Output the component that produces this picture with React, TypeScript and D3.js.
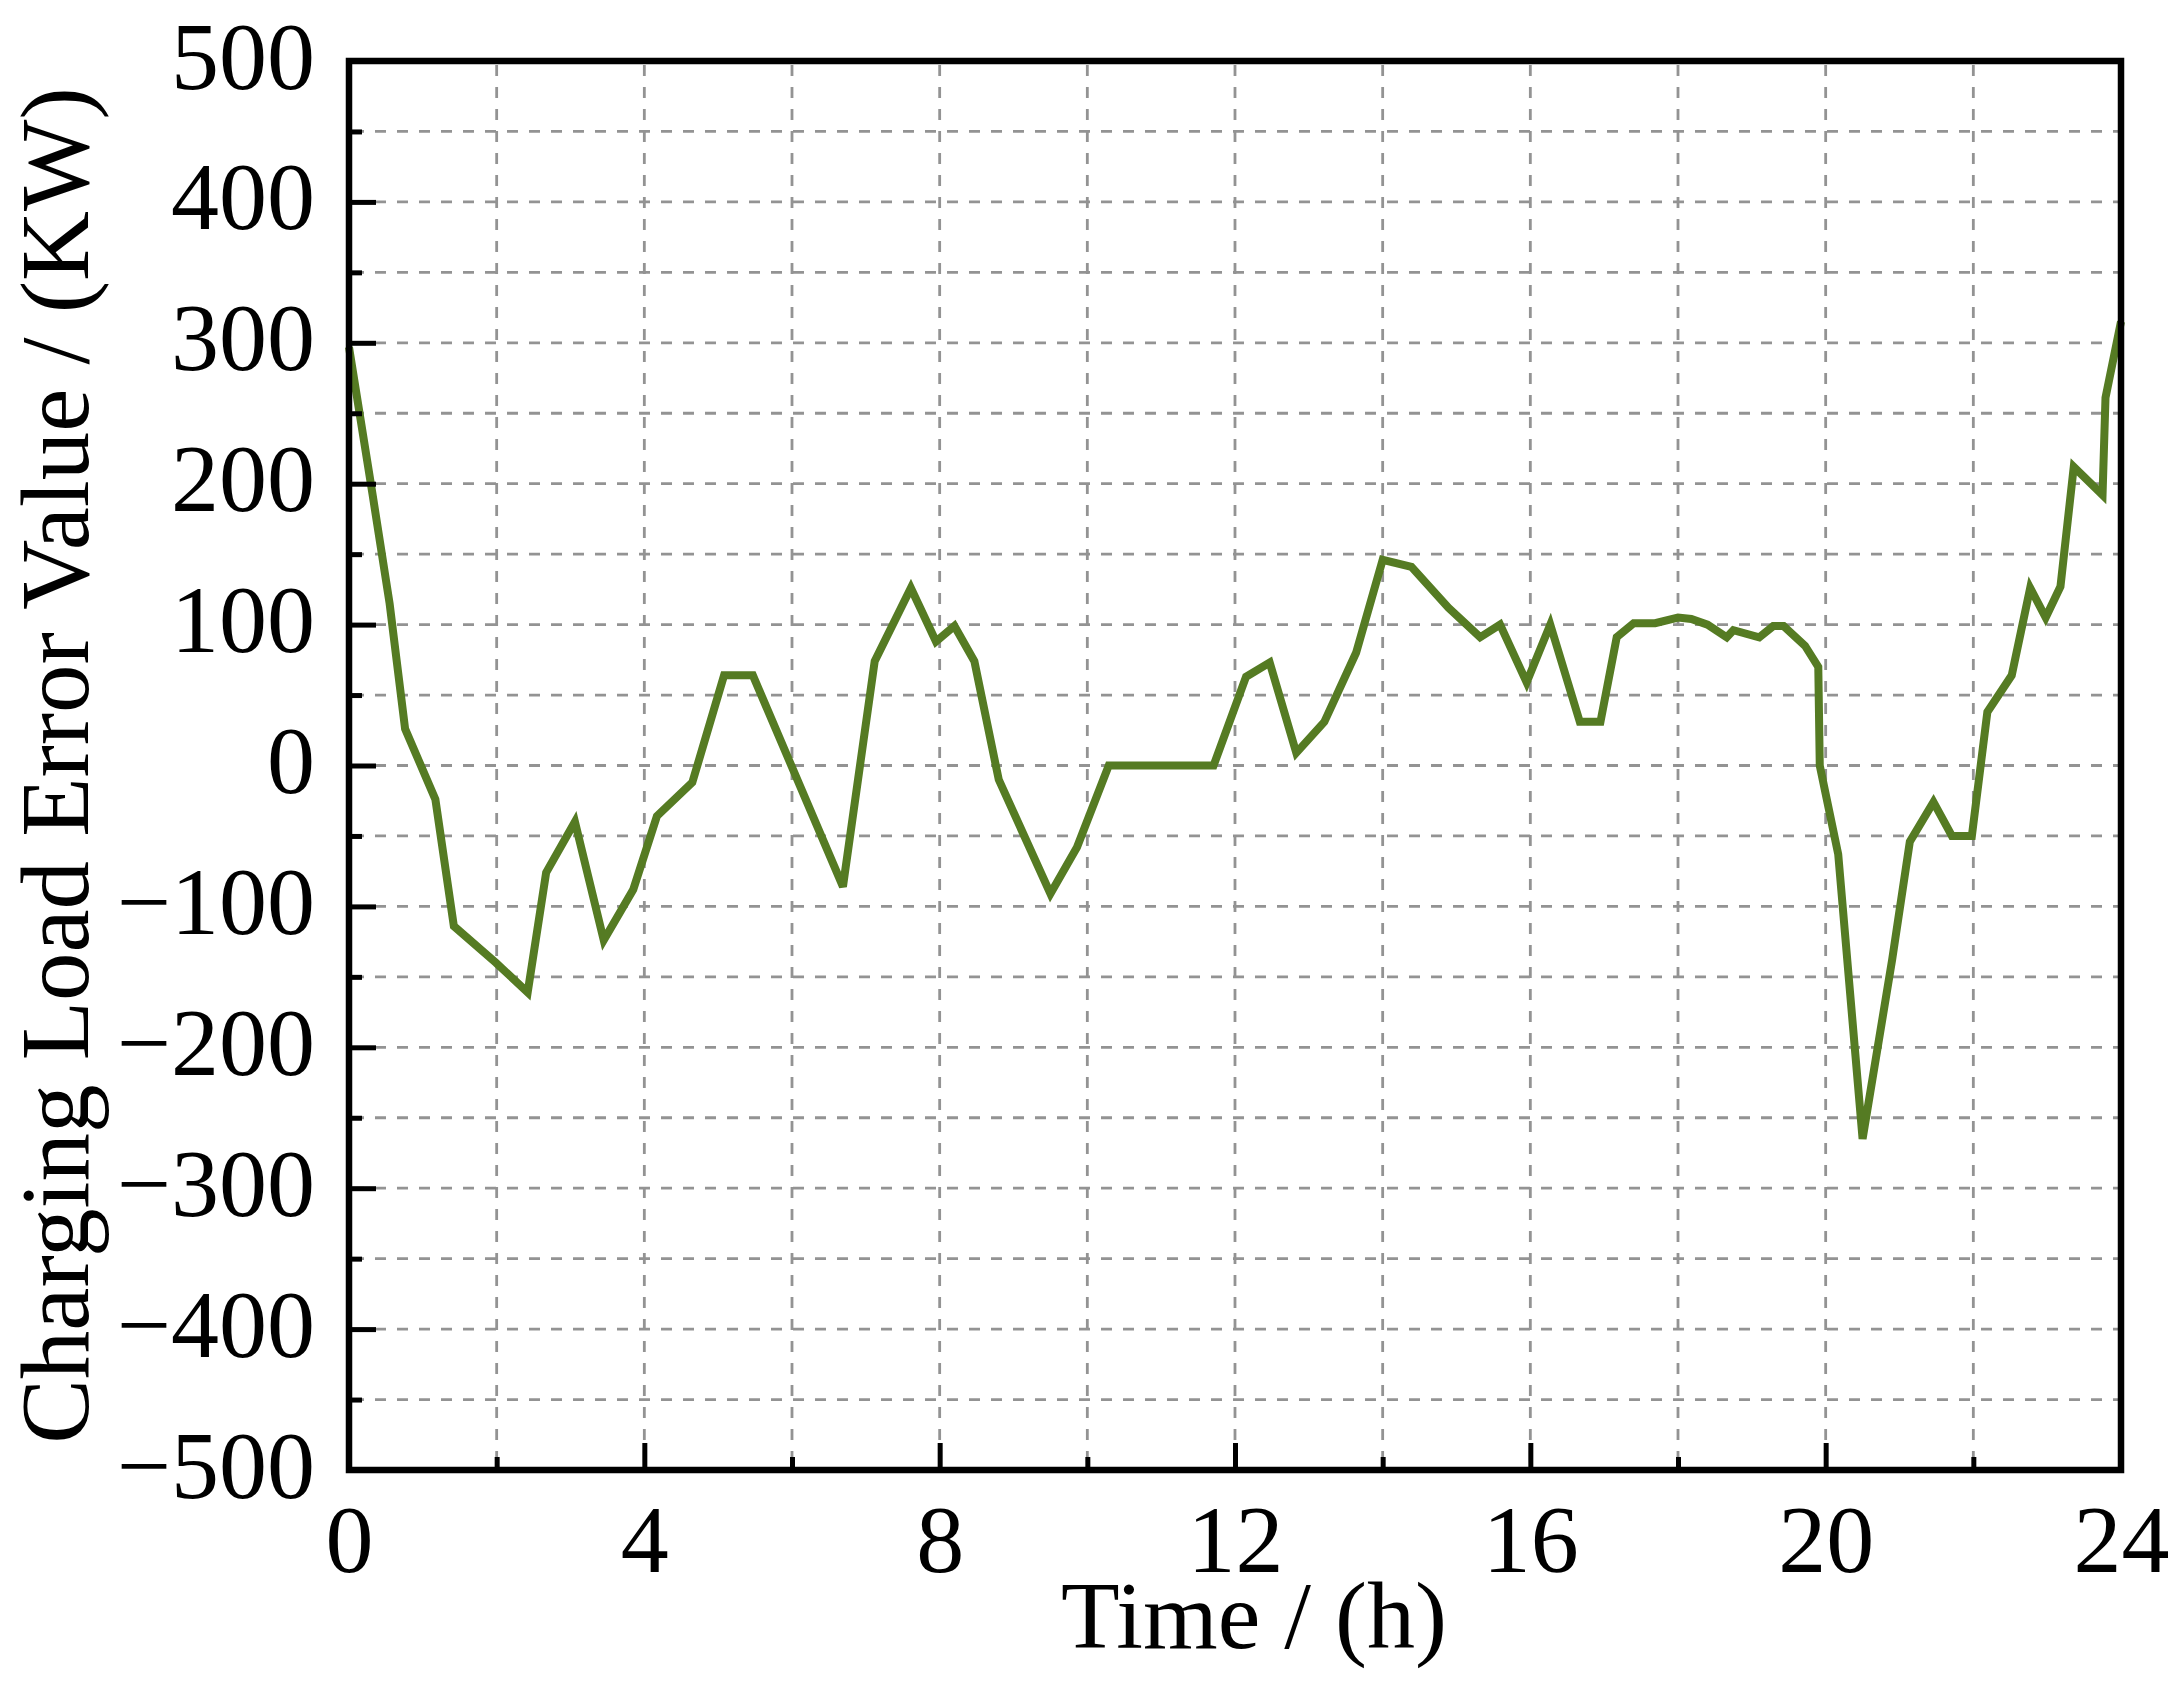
import { useEffect, useRef } from "react";
import * as d3 from "d3";

// Time (h) and charging load error (KW)
const hours = [
  0, 0.32, 0.55, 0.76, 1.17, 1.42, 1.99, 2.42, 2.67, 3.06, 3.45, 3.85, 4.17, 4.65, 5.08, 5.47,
  6.69, 7.12, 7.61, 7.95, 8.2, 8.47, 8.8, 9.5, 9.86, 10.29, 11.71, 12.15, 12.47, 12.83, 13.21,
  13.64, 14.0, 14.39, 14.89, 15.32, 15.59, 15.95, 16.27, 16.67, 16.95, 17.17, 17.4, 17.69, 18.0,
  18.18, 18.4, 18.66, 18.75, 19.1, 19.29, 19.43, 19.72, 19.9, 19.92, 20.17, 20.5, 20.9, 21.14,
  21.46, 21.71, 21.98, 22.19, 22.52, 22.77, 22.98, 23.18, 23.36, 23.75, 23.79, 24.0,
];
const errorKW = [
  297, 192, 115, 26, -24, -114, -140, -161, -76, -40, -124, -88, -36, -12, 64, 64,
  -86, 74, 126, 88, 99, 74, -10, -91, -58, 0, 0, 63, 73, 9, 31,
  80, 146, 141, 112, 91, 100, 59, 100, 31, 31, 91, 101, 101, 105,
  104, 100, 91, 96, 91, 99, 99, 85, 70, 0, -63, -265, -138, -54,
  -26, -50, -50, 38, 64, 126, 105, 127, 212, 192, 261, 315,
];

const xMajor = [0, 4, 8, 12, 16, 20, 24];
const xMinor = [2, 6, 10, 14, 18, 22];
const yMajor = [-500, -400, -300, -200, -100, 0, 100, 200, 300, 400, 500];
const yMinor = [-450, -350, -250, -150, -50, 50, 150, 250, 350, 450];

const W = 2179;
const H = 1681;
const FONT = "'Liberation Serif', 'Times New Roman', Times, serif";

export default function App() {
  const ref = useRef<SVGSVGElement>(null);

  useEffect(() => {
    if (!ref.current) return;
    const svg = d3.select(ref.current);
    svg.selectAll("*").remove();

    const margin = { top: 61, right: 58, bottom: 211, left: 349 };
    const x = d3.scaleLinear().domain([0, 24]).range([margin.left, W - margin.right]);
    const y = d3.scaleLinear().domain([-500, 500]).range([H - margin.bottom, margin.top]);

    svg.append("rect").attr("width", W).attr("height", H).attr("fill", "#fff");

    // Dashed grid
    const grid = svg.append("g").attr("stroke", "#939393").attr("stroke-width", 2.8).attr("stroke-dasharray", "11,11");
    grid
      .selectAll("line.h")
      .data([...yMajor.slice(1, -1), ...yMinor])
      .join("line")
      .attr("class", "h")
      .attr("x1", x(0) + 4)
      .attr("x2", x(24))
      .attr("y1", (d) => y(d))
      .attr("y2", (d) => y(d));
    grid
      .selectAll("line.v")
      .data([...xMajor.slice(1, -1), ...xMinor])
      .join("line")
      .attr("class", "v")
      .attr("x1", (d) => x(d))
      .attr("x2", (d) => x(d))
      .attr("y1", y(500) + 4)
      .attr("y2", y(-500));

    // Data line
    const pts = hours.map((h, i) => [h, errorKW[i]] as [number, number]);
    svg
      .append("path")
      .datum(pts)
      .attr("fill", "none")
      .attr("stroke", "#557b23")
      .attr("stroke-width", 8)
      .attr("stroke-linejoin", "miter")
      .attr("stroke-miterlimit", 3)
      .attr("d", d3.line<[number, number]>().x((d) => x(d[0])).y((d) => y(d[1])));

    // Axes: inward ticks, bottom and left only
    const styleAxis = (g: d3.Selection<SVGGElement, unknown, null, undefined>) => {
      g.select(".domain").remove();
      g.selectAll(".tick line").attr("stroke", "#000").attr("stroke-width", 5);
      g.selectAll(".tick text").attr("fill", "#000").attr("font-size", 96).attr("font-family", FONT);
    };

    svg
      .append("g")
      .attr("transform", `translate(${margin.left},0)`)
      .call(d3.axisLeft(y).tickValues(yMinor).tickSize(-13).tickFormat(() => ""))
      .call(styleAxis);
    svg
      .append("g")
      .attr("transform", `translate(${margin.left},0)`)
      .call(d3.axisLeft(y).tickValues(yMajor).tickSize(-27).tickPadding(34).tickFormat(d3.format("d")))
      .call(styleAxis)
      .call((g) => g.selectAll(".tick text").attr("dy", null).attr("y", 27));

    svg
      .append("g")
      .attr("transform", `translate(0,${H - margin.bottom})`)
      .call(d3.axisBottom(x).tickValues(xMinor).tickSize(-13).tickFormat(() => ""))
      .call(styleAxis);
    svg
      .append("g")
      .attr("transform", `translate(0,${H - margin.bottom})`)
      .call(d3.axisBottom(x).tickValues(xMajor).tickSize(-27).tickFormat(d3.format("d")))
      .call(styleAxis)
      .call((g) => g.selectAll(".tick text").attr("dy", null).attr("y", 102));

    // Frame
    svg
      .append("rect")
      .attr("x", x(0))
      .attr("y", y(500))
      .attr("width", x(24) - x(0))
      .attr("height", y(-500) - y(500))
      .attr("fill", "none")
      .attr("stroke", "#000")
      .attr("stroke-width", 6.5);

    // Axis titles
    svg
      .append("text")
      .attr("x", (x(0) + x(24)) / 2 + 19)
      .attr("y", 1648)
      .attr("text-anchor", "middle")
      .attr("font-family", FONT)
      .attr("font-size", 96)
      .attr("fill", "#000")
      .text("Time / (h)");

    svg
      .append("text")
      .attr("transform", `translate(88,${(y(500) + y(-500)) / 2}) rotate(-90)`)
      .attr("text-anchor", "middle")
      .attr("font-family", FONT)
      .attr("font-size", 97)
      .attr("fill", "#000")
      .text("Charging Load Error Value / (KW)");
  }, []);

  return (
    <div style={{ position: "absolute", left: 0, top: 0 }}>
      <svg ref={ref} width={W} height={H} />
    </div>
  );
}
